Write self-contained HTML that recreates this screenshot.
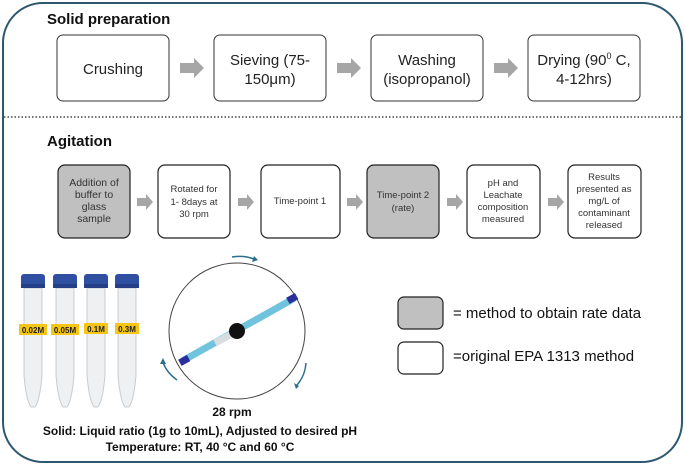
<!DOCTYPE html>
<html><head><meta charset="utf-8"><style>
html,body{margin:0;padding:0;background:#fff;}
svg{display:block;font-family:"Liberation Sans",sans-serif;}
</style></head><body>
<svg width="685" height="465" viewBox="0 0 685 465" xmlns="http://www.w3.org/2000/svg">
<defs>
<g id="arr"><polygon points="0,-5 14,-5 14,-10 24,0 14,10 14,5 0,5" fill="#a6a6a6"/></g>
<g id="sarr"><polygon points="0,-4 9,-4 9,-8 16,0 9,8 9,4 0,4" fill="#a6a6a6"/></g>
<g id="tube">
<path d="M-9,288 L9,288 L9,375 Q7,400 2,407 L-2,407 Q-7,400 -9,375 Z" fill="#eef0f2" stroke="#c8ccd0" stroke-width="1"/>
<rect x="-12" y="274" width="24" height="14" rx="3" fill="#2f4fa0"/>
<rect x="-12" y="284" width="24" height="4" fill="#243f85"/>
</g>
</defs>
<rect x="3" y="3" width="679" height="459" rx="40" fill="#fff" stroke="#2d5870" stroke-width="2"/>
<line x1="4" y1="117" x2="681" y2="117" stroke="#444" stroke-width="1.5" stroke-dasharray="1.5,2"/>
<text x="47" y="24" font-size="15" font-weight="bold" fill="#111">Solid preparation</text>
<text x="47" y="146" font-size="15" font-weight="bold" fill="#111">Agitation</text>
<g fill="#fff" stroke="#333" stroke-width="1">
<rect x="57" y="35" width="112" height="66" rx="6"/>
<rect x="214" y="35" width="112" height="66" rx="6"/>
<rect x="371" y="35" width="112" height="66" rx="6"/>
<rect x="528" y="35" width="112" height="66" rx="6"/>
</g>
<use href="#arr" x="180" y="68"/><use href="#arr" x="337" y="68"/><use href="#arr" x="494" y="68"/>
<g font-size="15" fill="#222" text-anchor="middle">
<text x="113" y="74">Crushing</text>
<text x="270" y="65">Sieving (75-</text><text x="270" y="84">150μm)</text>
<text x="427" y="65">Washing</text><text x="427" y="84">(isopropanol)</text>
<text x="584" y="65">Drying (90<tspan font-size="9" dy="-6">0</tspan><tspan dy="6"> C,</tspan></text><text x="584" y="84">4-12hrs)</text>
</g>
<g stroke="#222" stroke-width="1.2">
<rect x="58" y="165" width="72" height="73" rx="7" fill="#c0c0c0"/>
<rect x="158" y="165" width="72" height="73" rx="7" fill="#fff"/>
<rect x="261" y="165" width="79" height="73" rx="7" fill="#fff"/>
<rect x="367" y="165" width="72" height="73" rx="7" fill="#c0c0c0"/>
<rect x="467" y="165" width="73" height="73" rx="7" fill="#fff"/>
<rect x="568" y="165" width="73" height="73" rx="7" fill="#fff"/>
</g>
<use href="#sarr" x="137" y="202"/><use href="#sarr" x="238" y="202"/><use href="#sarr" x="347" y="202"/><use href="#sarr" x="447" y="202"/><use href="#sarr" x="548" y="202"/>
<g font-size="9.5" fill="#333" text-anchor="middle">
<text x="94" y="186" font-size="10.5">Addition of</text><text x="94" y="198" font-size="10.5">buffer to</text><text x="94" y="210" font-size="10.5">glass</text><text x="94" y="222" font-size="10.5">sample</text>
<text x="194" y="192">Rotated for</text><text x="194" y="205">1- 8days at</text><text x="194" y="217">30 rpm</text>
<text x="300" y="204">Time-point 1</text>
<text x="403" y="198">Time-point 2</text><text x="403" y="211">(rate)</text>
<text x="503" y="186">pH and</text><text x="503" y="198">Leachate</text><text x="503" y="210">composition</text><text x="503" y="222">measured</text>
<text x="604" y="180">Results</text><text x="604" y="192">presented as</text><text x="604" y="204">mg/L of</text><text x="604" y="216">contaminant</text><text x="604" y="228">released</text>
</g>
<rect x="398" y="297" width="45" height="32" rx="6" fill="#c0c0c0" stroke="#222" stroke-width="1.2"/>
<rect x="398" y="342" width="45" height="32" rx="6" fill="#fff" stroke="#222" stroke-width="1.2"/>
<text x="453" y="318" font-size="15" fill="#111">= method to obtain rate data</text>
<text x="453" y="361" font-size="15" fill="#111">=original EPA 1313 method</text>
<use href="#tube" x="33"/><use href="#tube" x="65"/><use href="#tube" x="96"/><use href="#tube" x="127"/>
<g font-size="8" font-weight="bold" text-anchor="middle" fill="#222">
<rect x="19" y="324" width="28" height="11" fill="#f5c518"/><text x="33" y="333">0.02M</text>
<rect x="51" y="324" width="28" height="11" fill="#f5c518"/><text x="65" y="333">0.05M</text>
<rect x="84" y="323" width="24" height="11" fill="#f5c518"/><text x="96" y="332">0.1M</text>
<rect x="115" y="323" width="24" height="11" fill="#f5c518"/><text x="127" y="332">0.3M</text>
</g>
<circle cx="237" cy="331" r="68" fill="#fff" stroke="#444" stroke-width="1"/>
<line x1="184" y1="360" x2="293" y2="299" stroke="#6fc3dc" stroke-width="7" stroke-linecap="round"/>
<line x1="215" y1="343" x2="232" y2="334" stroke="#d8dde0" stroke-width="7"/>
<rect x="179" y="357" width="10" height="7" fill="#2a2f9a" transform="rotate(-29 184 360)"/>
<rect x="287" y="295" width="10" height="7" fill="#2a2f9a" transform="rotate(-29 292 298)"/>
<circle cx="237" cy="331" r="8" fill="#111"/>
<g fill="none" stroke="#2c6f8c" stroke-width="1.5">
<path d="M232,257 Q244,255 254,259"/><path d="M177,380 Q166,372 163,362"/><path d="M306,363 Q305,376 297,385"/>
</g>
<g fill="#2c6f8c">
<polygon points="254,256 258,260 252,262"/><polygon points="160,364 163,358 166,364"/><polygon points="294,383 299,386 296,389"/>
</g>
<g font-weight="bold" fill="#111" text-anchor="middle">
<text x="232" y="416" font-size="12">28 rpm</text>
<text x="200" y="435" font-size="12">Solid: Liquid ratio (1g to 10mL), Adjusted to desired pH</text>
<text x="200" y="451" font-size="12">Temperature: RT, 40 °C and 60 °C</text>
</g>
</svg>
</body></html>
